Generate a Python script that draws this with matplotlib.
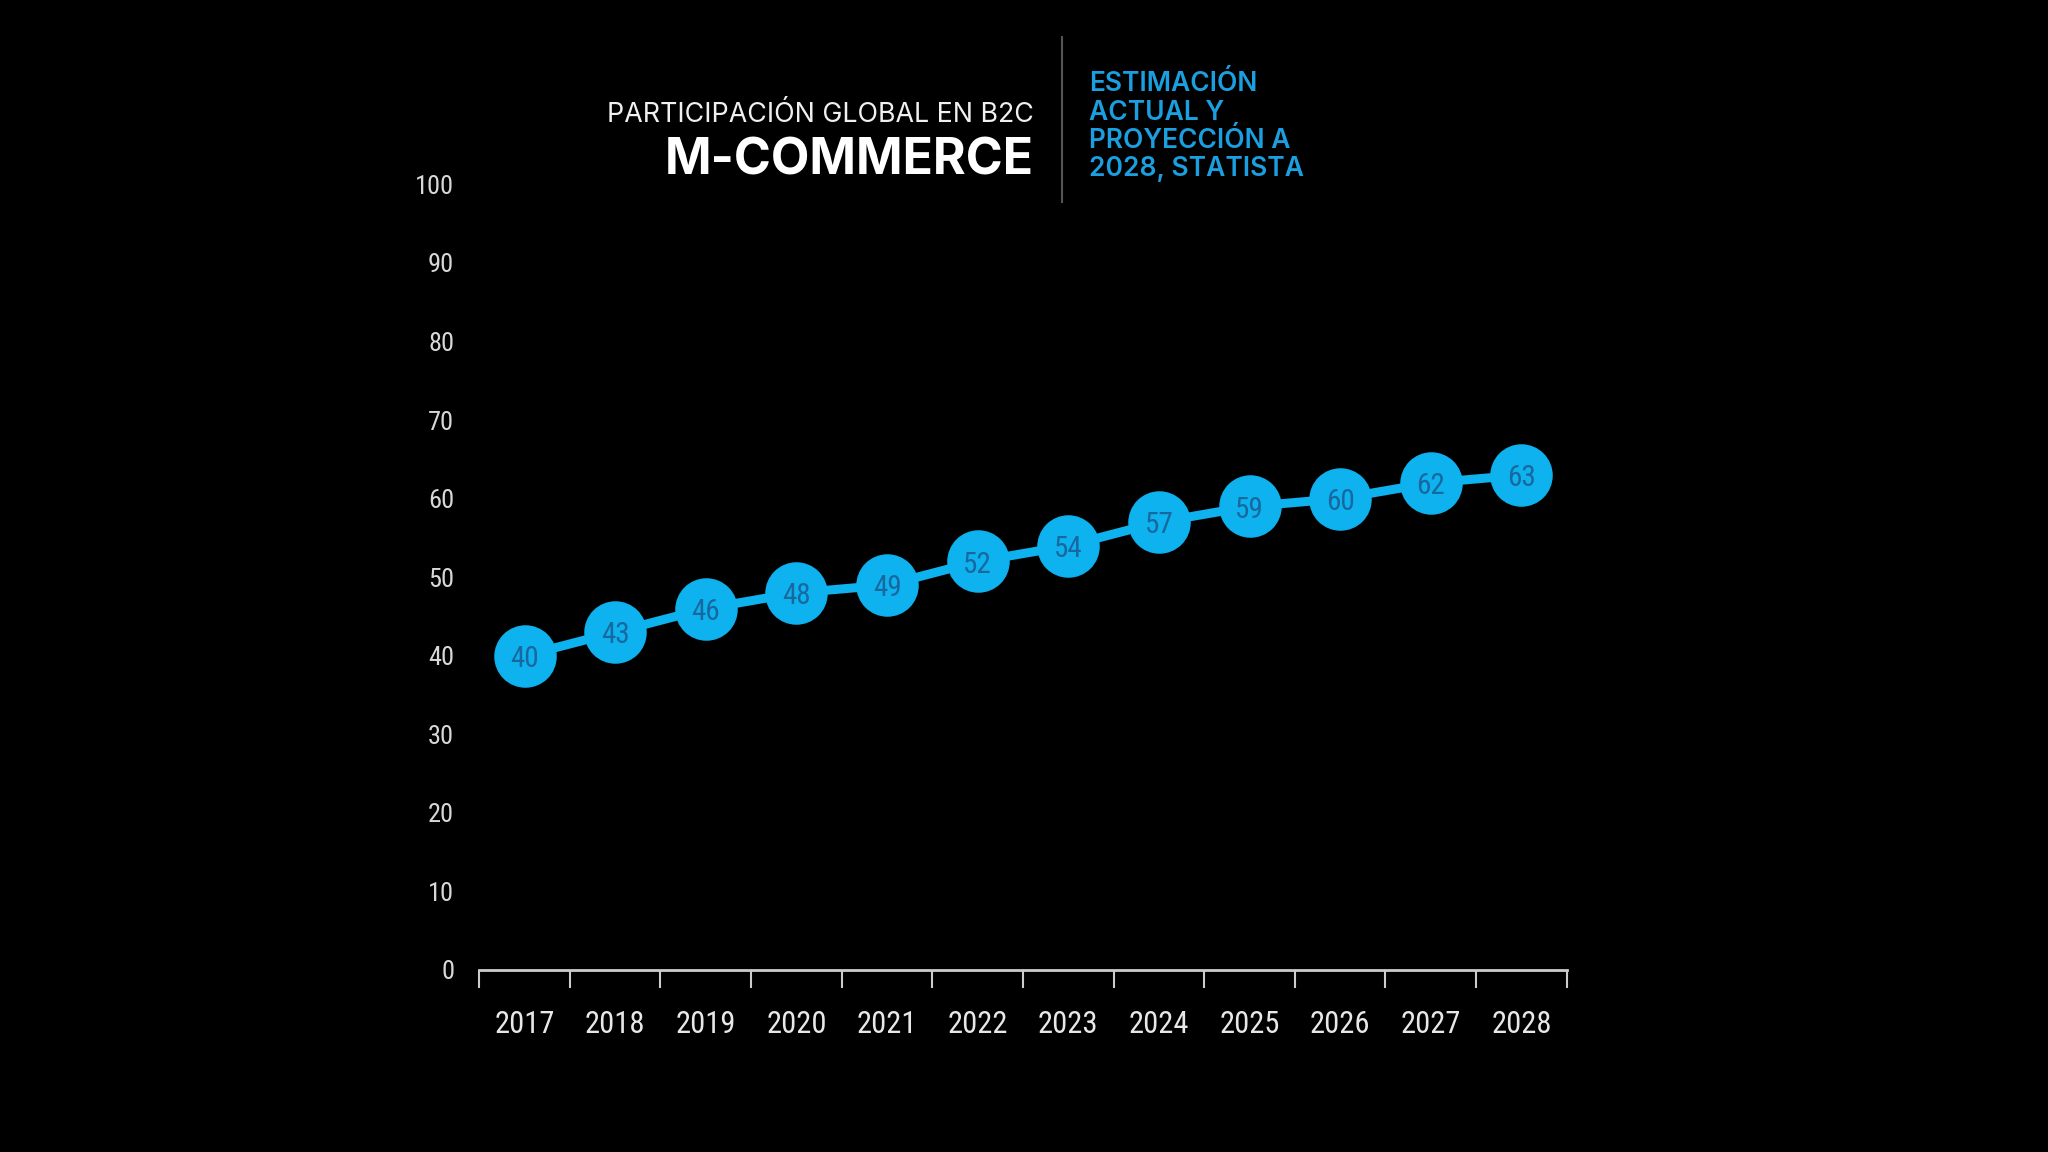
import matplotlib.pyplot as plt
import numpy as np

# data
years = ['2017', '2018', '2019', '2020', '2021', '2022',
         '2023', '2024', '2025', '2026', '2027', '2028']
share = [40, 43, 46, 48, 49, 52, 54, 57, 59, 60, 62, 63]
y_ticks = [0, 10, 20, 30, 40, 50, 60, 70, 80, 90, 100]

blue = '#0db2ee'
label_blue = '#17689f'
narrow = ['Roboto Condensed', 'Roboto', 'DejaVu Sans']

plt.rcParams['font.family'] = ['Inter', 'DejaVu Sans']

fig = plt.figure(figsize=(20.48, 11.52), dpi=100, facecolor='black')
ax = fig.add_axes([0.234, 0.158, 0.531, 0.682])
ax.set_facecolor('black')

x = np.arange(len(years))
ax.plot(x, share, color=blue, lw=6.5, marker='o', ms=44,
        markerfacecolor=blue, markeredgecolor=blue, zorder=3)
for xi, v in zip(x, share):
    ax.text(xi, v - 0.4, str(v), ha='center', va='center', color=label_blue,
            fontsize=21, family=narrow, zorder=4)

ax.set_xlim(-0.5, len(years) - 0.5)
ax.set_ylim(0, 100)

# category ticks sit between the years
ax.set_xticks(np.arange(-0.5, len(years), 1.0))
ax.set_xticklabels([])
ax.set_xticks(x, minor=True)
ax.set_xticklabels(years, minor=True, color='#e8e8e8', fontsize=22, family=narrow)
ax.tick_params(axis='x', which='major', length=13, width=1.5, color='#cccccc', direction='out')
ax.tick_params(axis='x', which='minor', length=0, pad=29)

ax.set_yticks(y_ticks)
ax.set_yticklabels([str(t) for t in y_ticks], color='#d8d8d8', fontsize=19, family=narrow)
ax.tick_params(axis='y', length=0, pad=18)

for s in ['top', 'right', 'left']:
    ax.spines[s].set_visible(False)
ax.spines['bottom'].set_color('#cccccc')
ax.spines['bottom'].set_linewidth(2)

# header
fig.text(1034/2048, 1 - 115/1152, 'PARTICIPACIÓN GLOBAL EN B2C', ha='right', va='center',
         color='#f0f0f0', fontsize=19.3)
fig.text(1034/2048, 1 - 161/1152, 'M-COMMERCE', ha='right', va='center',
         color='white', fontsize=36, fontweight='bold')
fig.add_artist(plt.Line2D([1062/2048, 1062/2048], [1 - 37/1152, 1 - 202/1152],
                          color='#555555', lw=1.5))
sub = ['ESTIMACIÓN', 'ACTUAL Y', 'PROYECCIÓN A', '2028, STATISTA']
for i, line in enumerate(sub):
    fig.text(1089/2048, 1 - (84 + 28.5*i)/1152, line, ha='left', va='center',
             color='#1a9fe0', fontsize=19, fontweight='semibold')

fig.savefig('out.png', dpi=100, facecolor='black')
